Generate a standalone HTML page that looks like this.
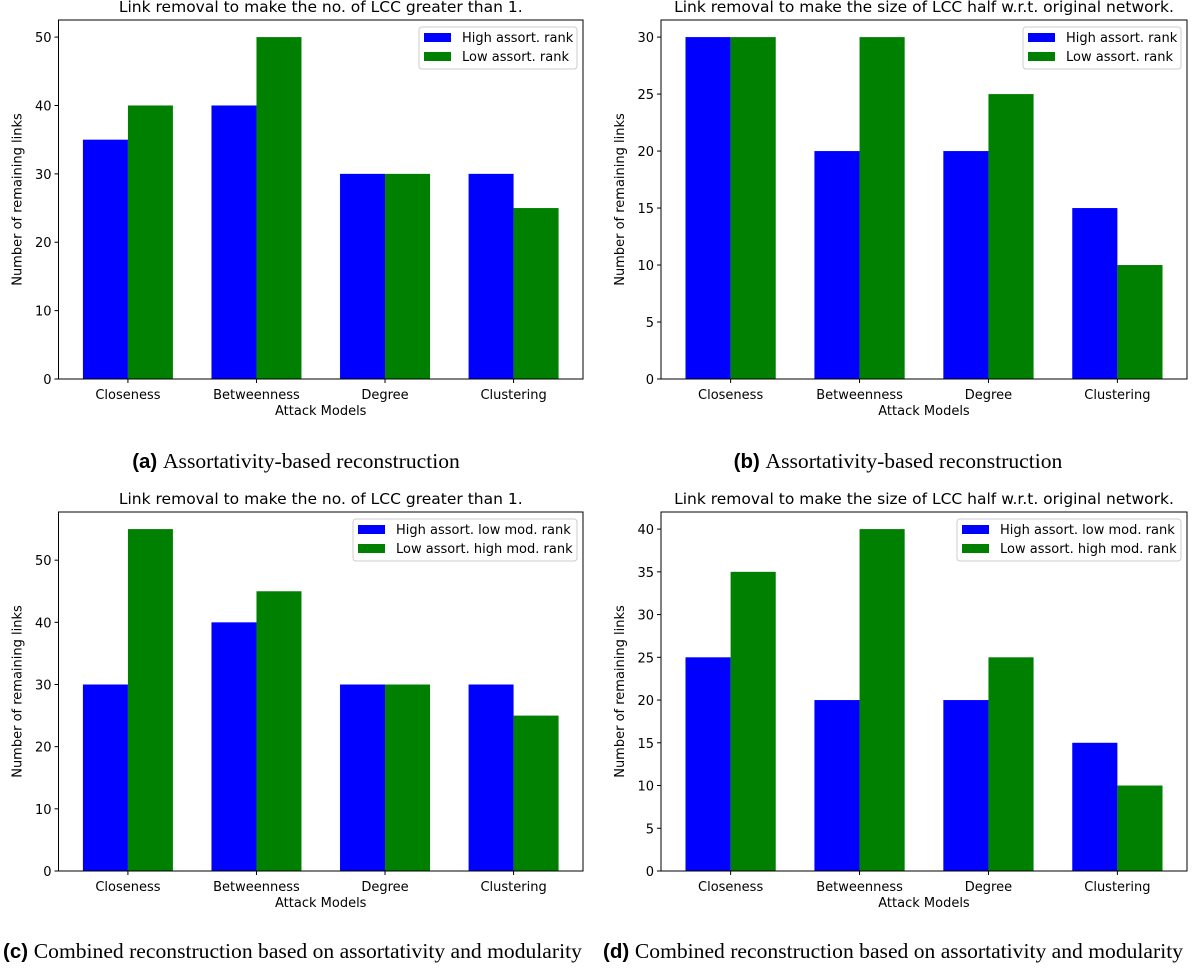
<!DOCTYPE html>
<html><head><meta charset="utf-8"><style>
body{margin:0;background:#fff;width:1200px;height:966px;overflow:hidden}
svg text{font-family:"DejaVu Sans","Liberation Sans",sans-serif}
.cap{font-family:"Liberation Serif",serif;font-size:21.6px}
.capb{font-family:"Liberation Sans",sans-serif;font-weight:bold;font-size:20.5px}
</style></head><body>
<svg id="s" width="1200" height="966" xmlns="http://www.w3.org/2000/svg"></svg>
<script>
const categories=["Closeness","Betweenness","Degree","Clustering"];
const aHigh=[35,40,30,30], aLow=[40,50,30,25];
const bHigh=[30,20,20,15], bLow=[30,30,25,10];
const cHigh=[30,40,30,30], cLow=[55,45,30,25];
const dHigh=[25,20,20,15], dLow=[35,40,25,10];
const aTicks=[0,10,20,30,40,50], bTicks=[0,5,10,15,20,25,30];
const cTicks=[0,10,20,30,40,50], dTicks=[0,5,10,15,20,25,30,35,40];
const legAB=["High assort. rank","Low assort. rank"];
const legCD=["High assort. low mod. rank","Low assort. high mod. rank"];
const titles=["Link removal to make the  no. of LCC greater than 1.","Link removal to make the size of LCC half w.r.t. original network."];
const NS="http://www.w3.org/2000/svg", S=document.getElementById('s');
function el(t,a,p){const e=document.createElementNS(NS,t);for(const k in a)e.setAttribute(k,a[k]);(p||S).appendChild(e);return e;}
function panel(id,L,T,B,R,high,low,ticks,leg,title,legW){
  const g=el('g',{});
  
  
  const maxV=Math.max(...high,...low)*1.05;
  const y=v=>B-(B-T)*v/maxV;
  const unit=(R-L)/4.08, x=i=>L+unit*(0.54+i);
  const w=0.35*unit;
  categories.forEach((c,i)=>{
    const r1=el('rect',{x:x(i)-w,y:y(high[i]),width:w,height:B-y(high[i]),fill:'#0000ff'},g);
    
    
    const r2=el('rect',{x:x(i),y:y(low[i]),width:w,height:B-y(low[i]),fill:'#008000'},g);
    
    
    el('line',{x1:x(i),x2:x(i),y1:B,y2:B+4,stroke:'#000'},g);
    const t=el('text',{x:x(i),y:B+20,'font-size':13,'text-anchor':'middle'},g);t.textContent=c;
    
    
  });
  ticks.forEach(v=>{
    el('line',{x1:L-4,x2:L,y1:y(v),y2:y(v),stroke:'#000'},g);
    const t=el('text',{x:L-7,y:y(v)+5,'font-size':13,'text-anchor':'end'},g);t.textContent=v;
    
    
  });
  el('rect',{x:L,y:T,width:R-L,height:B-T,fill:'none',stroke:'#000','stroke-width':1},g);
  const xt=el('text',{x:(L+R)/2,y:B+36,'font-size':13,'text-anchor':'middle'},g);xt.textContent='Attack Models';
  
  
  const yt=el('text',{x:0,y:0,'font-size':13,'text-anchor':'middle',transform:`translate(${L-37},${(T+B)/2}) rotate(-90)`},g);yt.textContent='Number of remaining links';
  
  
  const tt=el('text',{x:(L+R)/2,y:T-8,'font-size':15.5,'text-anchor':'middle'},g);tt.textContent=title;
  
  
  const lg=el('g',{},g);
  
  
  el('rect',{x:R-6-legW,y:T+7,width:legW,height:42,rx:3,fill:'#fff',stroke:'#ccc'},lg);
  leg.forEach((s,i)=>{
    el('rect',{x:R-legW-1,y:T+13+i*19,width:27,height:9,fill:i?'#008000':'#0000ff'},lg);
    const t=el('text',{x:R-legW+37,y:T+22+i*19,'font-size':13},lg);t.textContent=s;
    
    
  });
}
panel('a',58.5,20,379,583,aHigh,aLow,aTicks,legAB,titles[0],158);
panel('b',661,20,379,1187,bHigh,bLow,bTicks,legAB,titles[1],158);
panel('c',58.5,512,871,583,cHigh,cLow,cTicks,legCD,titles[0],224);
panel('d',661,512,871,1187,dHigh,dLow,dTicks,legCD,titles[1],224);
function cap(x,y,l,txt,anchor){
  const t=el('text',{x:x,y:y,'text-anchor':anchor||'middle'});
  
  
  const a=el('tspan',{class:'capb'},t);a.textContent='('+l+') ';
  const b=el('tspan',{class:'cap'},t);b.textContent=txt;
}
cap(296,468,'a','Assortativity-based reconstruction');
cap(898,468,'b','Assortativity-based reconstruction');
cap(3,958,'c','Combined reconstruction based on assortativity and modularity','start');
cap(603,958,'d','Combined reconstruction based on assortativity and modularity','start');
</script>
</body></html>
